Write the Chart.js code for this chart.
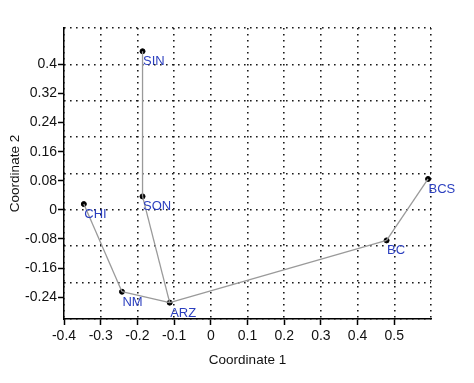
<!DOCTYPE html>
<html>
<head>
<meta charset="utf-8">
<script src="https://cdn.jsdelivr.net/npm/chart.js@4/dist/chart.umd.min.js"></script>
<style>
html,body{margin:0;padding:0;background:#fff;}
#wrap{width:474px;height:383px;}
</style>
</head>
<body>
<div id="wrap"><canvas id="c" width="474" height="383"></canvas></div>
<script>
// ---- data ----
const names  = ["SIN", "SON", "CHI", "NM", "ARZ", "BC", "BCS"];
const coord1 = [-0.186, -0.186, -0.346, -0.242, -0.112, 0.479, 0.592];
const coord2 = [0.436, 0.037, 0.016, -0.225, -0.255, -0.084, 0.085];
const edges  = [["SIN","SON"],["SON","ARZ"],["CHI","NM"],["NM","ARZ"],["ARZ","BC"],["BC","BCS"]];
const xTicks = [-0.4, -0.3, -0.2, -0.1, 0, 0.1, 0.2, 0.3, 0.4, 0.5];
const yTicks = [-0.24, -0.16, -0.08, 0, 0.08, 0.16, 0.24, 0.32, 0.4];
const xGrid  = [-0.4, -0.3, -0.2, -0.1, 0, 0.1, 0.2, 0.3, 0.4, 0.5, 0.6];
const yGrid  = [-0.3, -0.2, -0.1, 0, 0.1, 0.2, 0.3, 0.4, 0.5];
const xRange = [-0.4, 0.6];
const yRange = [-0.3, 0.5];

const FONT = "'Liberation Sans', Arial, sans-serif";
const pt = i => ({x: coord1[i], y: coord2[i]});
const idx = n => names.indexOf(n);

const datasets = edges.map(e => ({
  type: 'line',
  data: [pt(idx(e[0])), pt(idx(e[1]))],
  borderColor: '#9a9a9a',
  borderWidth: 1.3,
  pointRadius: 0,
  fill: false,
  xAxisID: 'x', yAxisID: 'y'
}));
datasets.push({
  type: 'scatter',
  data: names.map((n, i) => pt(i)),
  backgroundColor: '#000',
  borderColor: '#000',
  pointRadius: 2.5,
  xAxisID: 'x', yAxisID: 'y'
});

const labelPlugin = {
  id: 'labels',
  afterDatasetsDraw(chart) {
    const ctx = chart.ctx, xs = chart.scales.x, ys = chart.scales.y;
    ctx.save();
    ctx.font = "13px " + FONT;
    ctx.fillStyle = '#2b3fbf';
    ctx.textAlign = 'left';
    ctx.textBaseline = 'alphabetic';
    names.forEach((n, i) => {
      const px = xs.getPixelForValue(coord1[i]);
      const py = ys.getPixelForValue(coord2[i]);
      ctx.fillText(n, px + 0.5, py + 14);
    });
    ctx.restore();
  }
};

const tickFont = {family: FONT, size: 14};
new Chart(document.getElementById('c'), {
  data: {datasets},
  plugins: [labelPlugin],
  options: {
    responsive: false,
    animation: false,
    layout: {padding: {left: 0, top: 28, right: 43, bottom: 0}},
    plugins: {legend: {display: false}, tooltip: {enabled: false}},
    scales: {
      x: {
        type: 'linear', position: 'bottom', min: xRange[0], max: xRange[1],
        afterBuildTicks: a => { a.ticks = xTicks.map(v => ({value: v})); },
        afterFit: a => { a.height = 64; },
        ticks: {font: tickFont, color: '#111', padding: 3, maxRotation: 0,
          callback: v => String(Math.round(v * 100) / 100)},
        grid: {drawOnChartArea: false, drawTicks: true, tickLength: 6, tickColor: '#000', tickWidth: 1.5},
        border: {display: true, color: '#000', width: 1.5},
        title: {display: true, text: 'Coordinate 1', font: {family: FONT, size: 13.5}, color: '#111', padding: {top: 0, bottom: 15}}
      },
      y: {
        type: 'linear', position: 'left', min: yRange[0], max: yRange[1],
        afterBuildTicks: a => { a.ticks = yTicks.map(v => ({value: v})); },
        afterFit: a => { a.width = 64; },
        ticks: {font: tickFont, color: '#111', padding: 1,
          callback: v => String(Math.round(v * 100) / 100)},
        grid: {drawOnChartArea: false, drawTicks: true, tickLength: 6, tickColor: '#000', tickWidth: 1.5},
        border: {display: true, color: '#000', width: 1.5},
        title: {display: true, text: 'Coordinate 2', font: {family: FONT, size: 13.5}, color: '#111', padding: {top: 7, bottom: 0}}
      },
      x2: {
        type: 'linear', position: 'top', min: xRange[0], max: xRange[1],
        afterBuildTicks: a => { a.ticks = xGrid.map(v => ({value: v})); },
        afterFit: a => { a.height = 0; },
        ticks: {display: false},
        grid: {drawOnChartArea: true, drawTicks: false, color: '#1a1a1a', lineWidth: 1.6},
        border: {display: false, dash: [1.6, 4.4]}
      },
      y2: {
        type: 'linear', position: 'right', min: yRange[0], max: yRange[1],
        afterBuildTicks: a => { a.ticks = yGrid.map(v => ({value: v})); },
        afterFit: a => { a.width = 0; },
        ticks: {display: false},
        grid: {drawOnChartArea: true, drawTicks: false, color: '#1a1a1a', lineWidth: 1.6},
        border: {display: false, dash: [1.6, 4.4]}
      }
    }
  }
});
</script>
</body>
</html>
